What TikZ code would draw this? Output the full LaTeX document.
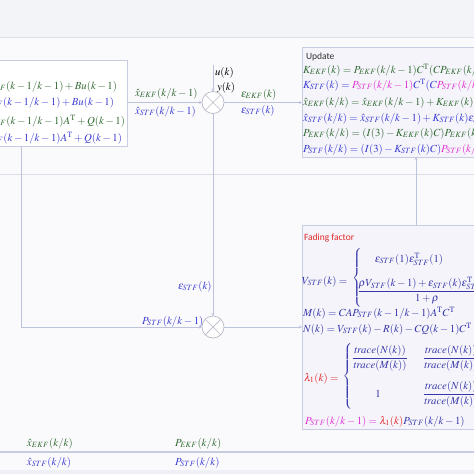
\documentclass[tikz,border=0pt]{standalone}
\usepackage{amsmath}
\usepackage{mathptmx}
\usepackage[no-math]{fontspec}
\newfontfamily\titlefont{Carlito}
\usetikzlibrary{arrows.meta}
\definecolor{eg}{RGB}{52,108,52}
\definecolor{eb}{RGB}{60,60,210}
\definecolor{em}{RGB}{225,50,210}
\definecolor{er}{RGB}{225,40,40}
\definecolor{en}{RGB}{55,55,170}
\definecolor{bgc}{RGB}{250,250,252}
\definecolor{topc}{RGB}{243,244,248}
\definecolor{botc}{RGB}{238,240,245}
\definecolor{boxc}{RGB}{200,204,225}
\definecolor{linec}{RGB}{190,195,220}
\definecolor{gridc}{RGB}{220,222,232}
\definecolor{circc}{RGB}{185,185,200}
\definecolor{fillc}{RGB}{244,244,250}
\begin{document}
\begin{tikzpicture}[x=1pt,y=-1pt,
  every node/.style={inner sep=0pt,outer sep=0pt},
  eq/.style={font=\fontsize{10.8}{12}\selectfont,anchor=base west},
  eqe/.style={font=\fontsize{10.8}{12}\selectfont,anchor=base east},
  eqc/.style={font=\fontsize{10.8}{12}\selectfont,anchor=base},
  boxnode/.style={draw=boxc,line width=0.8pt,rectangle},
  conn/.style={draw=linec,line width=0.8pt},
  arr/.style={conn,-{Stealth[length=3pt,width=3pt]}},
  mult/.style={circle,draw=circc,line width=0.7pt,minimum size=22pt,fill=white},
  gridline/.style={draw=gridc,line width=0.8pt},
  title/.style={font=\titlefont\fontsize{9.5}{11}\selectfont,anchor=base west}
]
\useasboundingbox (0,0) rectangle (474,474);
\clip (0,0) rectangle (474,474);
\fill[bgc] (0,0) rectangle (474,474);
\fill[topc] (0,0) rectangle (474,37);
\fill[botc] (0,470) rectangle (474,474);
\draw[gridline] (0,37) -- (474,37);
\draw[gridline] (0,174) -- (474,174);
\draw[draw=boxc,line width=1.2pt] (0,452) -- (474,452);

% boxes
\node[boxnode,fill=white,minimum width=207pt,minimum height=86pt] (pred) at (23.5,103) {};
\node[boxnode,fill=fillc,minimum width=258pt,minimum height=110pt] (upd) at (431,102) {};
\node[boxnode,fill=fillc,minimum width=258pt,minimum height=204pt] (fade) at (431,327) {};

% multipliers
\node[mult] (c1) at (213,102.5) {};
\draw[circc,line width=0.7pt] (c1.north west) -- (c1.south east) (c1.north east) -- (c1.south west);
\node[mult] (c2) at (213,327) {};
\draw[circc,line width=0.7pt] (c2.north west) -- (c2.south east) (c2.north east) -- (c2.south west);

% coordinates
\coordinate (uin) at (213,65);
\coordinate (pl) at (21.7,146);
\coordinate (ux) at (416,0);

% connectors
\draw[arr] (pred.east |- c1) -- (c1.west);
\draw[arr] (c1.east) -- (c1.east -| upd.west);
\draw[arr] (uin) -- (c1.north);
\draw[arr] (c1.south) -- (c2.north);
\draw[arr] (pl) |- (c2.west);
\draw[arr] (c2.east) -- (c2.east -| fade.west);
\draw[arr] (ux |- fade.north) -- (ux |- upd.south);

% prediction box text
\node[eqe,text=eg] (p1) at (117,89) {$\hat{x}_{EKF}(k-1/k-1)+Bu(k-1)$};
\node[eqe,text=eb] (p2) at (114,105) {$\hat{x}_{STF}(k-1/k-1)+Bu(k-1)$};
\node[eqe,text=eg] (p3) at (125,124) {$P_{EKF}(k-1/k-1)A^{\mathrm T}+Q(k-1)$};
\node[eqe,text=eb] (p4) at (122,141) {$P_{STF}(k-1/k-1)A^{\mathrm T}+Q(k-1)$};

% connector labels
\node[eq,text=eg] (l1) at (135,96) {$\hat{x}_{EKF}(k/k-1)$};
\node[eq,text=eb] (l2) at (135,114) {$\hat{x}_{STF}(k/k-1)$};
\node[eq] (lu) at (215,75) {$u(k)$};
\node[eq] (ly) at (217,90) {$y(k)$};
\node[eq,text=eg] (l3) at (241,97) {$\varepsilon_{EKF}(k)$};
\node[eq,text=eb] (l4) at (241,113) {$\varepsilon_{STF}(k)$};
\node[eq,text=eb] (l5) at (178,289) {$\varepsilon_{STF}(k)$};
\node[eq,text=eb] (l6) at (142,324) {$P_{STF}(k/k-1)$};

% update box
\node[title,text=black!80] (ut) at (306,59) {Update};
\node[eq,text=eg] (u1) at (303,73) {$K_{EKF}(k)=P_{EKF}(k/k-1)C^{\mathrm T}(CP_{EKF}(k/k-1)$};
\node[eq,text=eb] (u2) at (303,88) {$K_{STF}(k)={\color{em}P_{STF}(k/k-1)}C^{\mathrm T}(C{\color{em}P_{STF}(k/k-1)}$};
\node[eq,text=eg] (u3) at (303,105) {$\hat{x}_{EKF}(k/k)=\hat{x}_{EKF}(k/k-1)+K_{EKF}(k)\varepsilon_{EKF}(k)$};
\node[eq,text=eb] (u4) at (303,121) {$\hat{x}_{STF}(k/k)=\hat{x}_{STF}(k/k-1)+K_{STF}(k)\varepsilon_{STF}(k)$};
\node[eq,text=eg] (u5) at (303,136) {$P_{EKF}(k/k)=(I(3)-K_{EKF}(k)C)P_{EKF}(k/k-1)$};
\node[eq,text=eb] (u6) at (303,152) {$P_{STF}(k/k)=(I(3)-K_{STF}(k)C){\color{em}P_{STF}(k/k-1)}$};

% fading box
\node[title,text=er] (ft) at (304,240) {Fading factor};
\node[eq,text=en] (v1) at (302,284) {$V_{STF}(k)=$};
\node[text=en,font=\fontsize{10.8}{12}\selectfont] (b1) at (357.5,278) {$\left\{\vrule height 27pt depth 27pt width 0pt\right.$};
\node[eqc,text=en] (v2) at (409,262) {$\varepsilon_{STF}(1)\varepsilon^{\mathrm T}_{STF}(1)$};
\node[eqc,text=en] (v3) at (427,294) {$\dfrac{\rho V_{STF}(k-1)+\varepsilon_{STF}(k)\varepsilon^{\mathrm T}_{STF}(k)}{1+\rho}$};
\node[eq,text=en] (m1) at (303,316) {$M(k)=CAP_{STF}(k-1/k-1)A^{\mathrm T}C^{\mathrm T}$};
\node[eq,text=en] (n1) at (303,332) {$N(k)=V_{STF}(k)-R(k)-CQ(k-1)C^{\mathrm T}$};
\node[eq,text=er] (la) at (304,381) {$\lambda_1(k)=$};
\node[text=en,font=\fontsize{10.8}{12}\selectfont] (b2) at (348,377) {$\left\{\vrule height 31pt depth 31pt width 0pt\right.$};
\node[eqc,text=en] (f1) at (380,361) {$\dfrac{\mathit{trace}(N(k))}{\mathit{trace}(M(k))}$};
\node[eq,text=en] (f2) at (423,361) {$\dfrac{\mathit{trace}(N(k))}{\mathit{trace}(M(k))}$};
\node[eqc,text=en] (f3) at (378,397) {$1$};
\node[eq,text=en] (f4) at (423,397) {$\dfrac{\mathit{trace}(N(k))}{\mathit{trace}(M(k))}$};
\node[eq,text=em] (pl1) at (305,424) {$P_{STF}(k/k-1)={\color{er}\lambda_1(k)}{\color{en}P_{STF}(k/k-1)}$};

% bottom labels
\node[eq,text=eg] (o1) at (27,446) {$\hat{x}_{EKF}(k/k)$};
\node[eq,text=eb] (o2) at (27,465) {$\hat{x}_{STF}(k/k)$};
\node[eq,text=eg] (o3) at (175,446) {$P_{EKF}(k/k)$};
\node[eq,text=eb] (o4) at (175,465) {$P_{STF}(k/k)$};
\end{tikzpicture}
\end{document}
